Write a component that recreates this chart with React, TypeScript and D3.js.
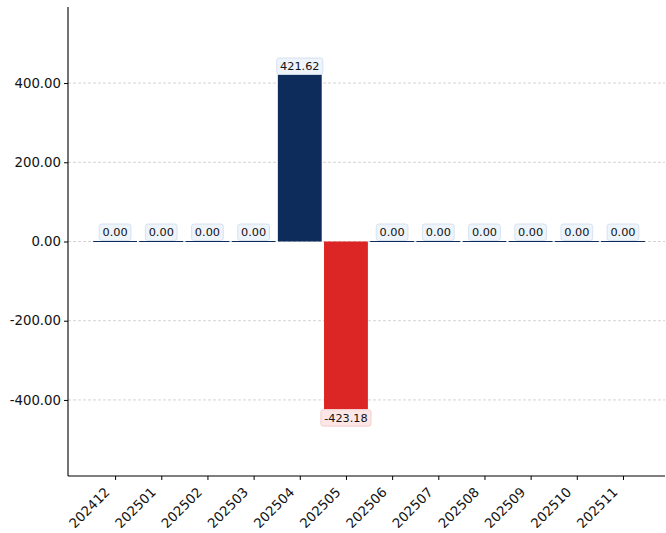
import React, { useEffect, useRef } from 'react';
import * as d3 from 'd3';

const categories = ['202412', '202501', '202502', '202503', '202504', '202505', '202506', '202507', '202508', '202509', '202510', '202511'];
const values = [0, 0, 0, 0, 421.62, -423.18, 0, 0, 0, 0, 0, 0];
const yTicks = [-400, -200, 0, 200, 400];

const W = 666;
const H = 533;

const App = () => {
  const svgRef = useRef(null);

  useEffect(() => {
    const svg = d3.select(svgRef.current);
    svg.selectAll('*').remove();
    const font = 'DejaVu Sans, sans-serif';
    const left = 68, right = 665, top = 7, bottom = 476;

    const x = d3.scaleLinear().domain([-1.02, 11.91]).range([left, right]);
    const y = d3.scaleLinear().domain([-592, 592]).range([bottom, top]);
    const barW = (x(1) - x(0)) * 0.95;

    // grid
    svg.append('g')
      .selectAll('line')
      .data(yTicks)
      .enter()
      .append('line')
      .attr('x1', left)
      .attr('x2', right)
      .attr('y1', (d) => y(d))
      .attr('y2', (d) => y(d))
      .attr('stroke', '#c8c8c8')
      .attr('stroke-width', 0.8)
      .attr('stroke-dasharray', '3,2');

    // bars
    const bars = svg.append('g');
    values.forEach((v, i) => {
      const cx = x(i);
      if (v === 0) {
        bars.append('line')
          .attr('x1', cx - barW / 2)
          .attr('x2', cx + barW / 2)
          .attr('y1', y(0))
          .attr('y2', y(0))
          .attr('stroke', '#0d2c5c')
          .attr('stroke-width', 1);
      } else {
        bars.append('rect')
          .attr('x', cx - barW / 2)
          .attr('width', barW)
          .attr('y', Math.min(y(v), y(0)))
          .attr('height', Math.abs(y(v) - y(0)))
          .attr('fill', v > 0 ? '#0d2c5c' : '#dc2626');
      }
    });

    // value labels
    const labels = svg.append('g').attr('font-family', font);
    values.forEach((v, i) => {
      const cx = x(i);
      const txt = v === 0 ? '0.00' : (v < 0 ? '-' : '') + Math.abs(v).toFixed(2);
      const fs = 11.3;
      const g = labels.append('g');
      const t = g.append('text')
        .attr('x', cx)
        .attr('text-anchor', 'middle')
        .attr('font-size', fs)
        .attr('fill', '#111')
        .text(txt);
      const tw = (t.node() as SVGTextElement).getComputedTextLength();
      const bh = 16.5;
      let by;
      if (v > 0) by = y(v) - bh;
      else if (v < 0) by = y(v) + 0.5;
      else by = y(0) - 1 - bh;
      t.attr('y', by + bh / 2 + fs * 0.36);
      g.insert('rect', 'text')
        .attr('x', cx - tw / 2 - 3.3)
        .attr('y', by)
        .attr('width', tw + 6.6)
        .attr('height', bh)
        .attr('rx', 2.5)
        .attr('fill', v < 0 ? '#fde6e6' : '#eef4fb')
        .attr('stroke', v < 0 ? '#f2c4c4' : '#cfdcec')
        .attr('stroke-width', 0.8);
    });

    // y axis
    const yAxis = svg.append('g')
      .attr('transform', `translate(${left},0)`)
      .call(d3.axisLeft(y).tickValues(yTicks).tickFormat((d) => (+d).toFixed(2)).tickSize(4).tickPadding(3));
    yAxis.select('.domain').attr('d', `M0,${top}V${bottom}`).attr('stroke', '#000').attr('stroke-width', 1.1);
    yAxis.selectAll('text').attr('font-size', 13.3).attr('font-family', font).attr('fill', '#111');

    // x axis
    const xAxis = svg.append('g')
      .attr('transform', `translate(0,${bottom})`)
      .call(d3.axisBottom(x).tickValues(d3.range(categories.length)).tickFormat((d) => categories[+d]).tickSize(4));
    xAxis.select('.domain').attr('d', `M${left},0H${right}`).attr('stroke', '#000').attr('stroke-width', 1.1);
    xAxis.selectAll('text')
      .attr('font-size', 13.3)
      .attr('font-family', font)
      .attr('fill', '#111')
      .attr('text-anchor', 'end')
      .attr('dy', 0)
      .attr('y', 0)
      .attr('transform', 'translate(-5,17) rotate(-45)');

    return () => {
      svg.selectAll('*').remove();
    };
  }, []);

  return (
    <div style={{ position: 'absolute', left: 0, top: 0, background: '#fff' }}>
      <svg ref={svgRef} width={W} height={H} style={{ display: 'block' }}></svg>
    </div>
  );
};

export default App;
